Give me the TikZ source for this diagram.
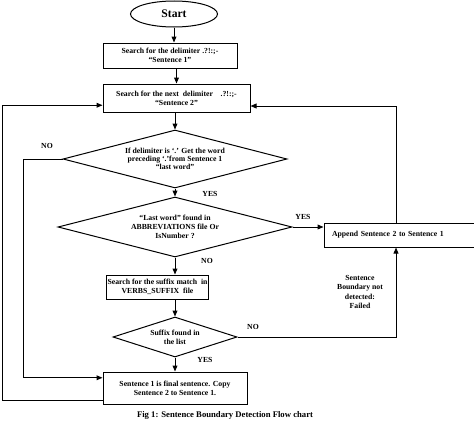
\documentclass[tikz,border=0pt]{standalone}
\usepackage{fontspec}
\setmainfont{Liberation Serif}
\usetikzlibrary{shapes.geometric,arrows.meta,calc}

\newcommand{\flowfont}{\fontsize{5.8}{6.8}\selectfont\bfseries}

\tikzset{every picture/.style={line width=0.75pt}}
\tikzset{
  procbox/.style={draw, rectangle, inner sep=0.75pt, align=center, font=\flowfont},
  decision/.style={draw, diamond, inner sep=0pt, aspect=3.5, align=center, font=\flowfont},
  flowlabel/.style={inner sep=0.75pt, align=center, font=\flowfont},
  flowarrow/.style={-{Triangle[length=4.5pt,width=3.6pt]}},
}

\begin{document}
\begin{tikzpicture}[x=0.75pt,y=0.75pt,yscale=-1,xscale=1]
\useasboundingbox (0,0) rectangle (474,421);

%Shape: Ellipse [start]
\node[draw, ellipse, minimum width=65.25pt, minimum height=19.5pt, inner sep=0pt, font=\fontsize{8.7}{10}\selectfont\bfseries] (start) at (174,14) {Start};

%Shape: Rectangle [search delimiter]
\node[procbox, minimum width=100.5pt, minimum height=18.75pt] (s1) at (170,55.5) {Search for the delimiter .?!:;-\\“Sentence 1”};
%Shape: Rectangle [search next delimiter]
\node[procbox, minimum width=110.25pt, minimum height=21pt] (s2) at (176.5,98) {Search for the next\ \ delimiter\ \ \ \ .?!:;-\\“Sentence 2”};

%Shape: Diamond [last word]
\node[decision, minimum width=168pt, minimum height=43.5pt, font=\fontsize{5.8}{6}\selectfont\bfseries] (d1) at (175,159) {If delimiter is ‘.’ Get the word\\preceding ‘.’from Sentence 1\\“last word”};
%Shape: Diamond [abbreviations]
\node[decision, minimum width=175.5pt, minimum height=45pt] (d2) at (175,227) {“Last word” found in\\ABBREVIATIONS file Or\\IsNumber ?};

%Shape: Rectangle [append]
\node[procbox, inner xsep=6pt, text width=101.25pt, align=left, minimum height=18pt] (app) at (399.5,235) {Append Sentence 2 to Sentence 1};

%Shape: Rectangle [suffix search]
\node[procbox, minimum width=71.25pt, minimum height=18pt] (suf) at (157.5,287) {Search for the suffix match\ \ in\\VERBS\_SUFFIX\ \ file};
%Shape: Diamond [suffix found]
\node[decision, minimum width=93pt, minimum height=30pt] (d3) at (175,337) {Suffix found in\\the list};

%Shape: Rectangle [final sentence]
\node[procbox, minimum width=108pt, minimum height=24pt] (fin) at (175,388) {Sentence 1 is final sentence. Copy\\Sentence 2 to Sentence 1.};

% turning points
\coordinate (noturn) at (23,159);
\coordinate (outturn) at (2,400);
\coordinate (backturn) at (396,106);
\coordinate (failturn) at (396,337);
\coordinate (finhi) at ($(fin.north west)!0.19!(fin.south west)$);
\coordinate (finlo) at ($(fin.north west)!0.875!(fin.south west)$);
\coordinate (s2lo) at ($(s2.north west)!0.75!(s2.south west)$);

%Straight Lines
\draw[flowarrow] (start.south) -- (start.south |- s1.north);
\draw[flowarrow] (s2.north |- s1.south) -- (s2.north);
\draw[flowarrow] (d1.north |- s2.south) -- (d1.north);
\draw[flowarrow] (d1.south) -- (d2.north);
\draw[flowarrow] (d2.south) -- (d2.south |- suf.north);
\draw[flowarrow] (d3.north |- suf.south) -- (d3.north);
\draw[flowarrow] (d3.south) -- (fin.north);
\draw[flowarrow] (d2.east) -- (d2.east -| app.west);
%Straight Lines [loops]
\draw[flowarrow] (d1.west) -- (noturn) |- (finhi);
\draw[flowarrow] (finlo) -- (finlo -| outturn) |- (s2lo);
\draw[flowarrow] (app.north -| backturn) -- (backturn) -- (backturn -| s2.east);
\draw[flowarrow] (d3.east) -- (failturn) -- (failturn |- app.south);

% Text Node
\node[flowlabel] (noA) at (47,146) {NO};
% Text Node
\node[flowlabel] (yesA) at (210,194) {YES};
% Text Node
\node[flowlabel] (yesB) at (303,217) {YES};
% Text Node
\node[flowlabel] (noB) at (207,261) {NO};
% Text Node
\node[flowlabel] (noC) at (253,327) {NO};
% Text Node
\node[flowlabel] (yesC) at (205,360) {YES};
% Text Node
\node[flowlabel, font=\fontsize{5.8}{7}\selectfont\bfseries] (failed) at (360,292) {Sentence\\Boundary not\\detected:\\Failed};
% Text Node
\node[inner sep=0.75pt, font=\fontsize{6.5}{8}\selectfont\bfseries] (caption) at (225,415) {Fig 1: Sentence Boundary Detection Flow chart};

\end{tikzpicture}
\end{document}
